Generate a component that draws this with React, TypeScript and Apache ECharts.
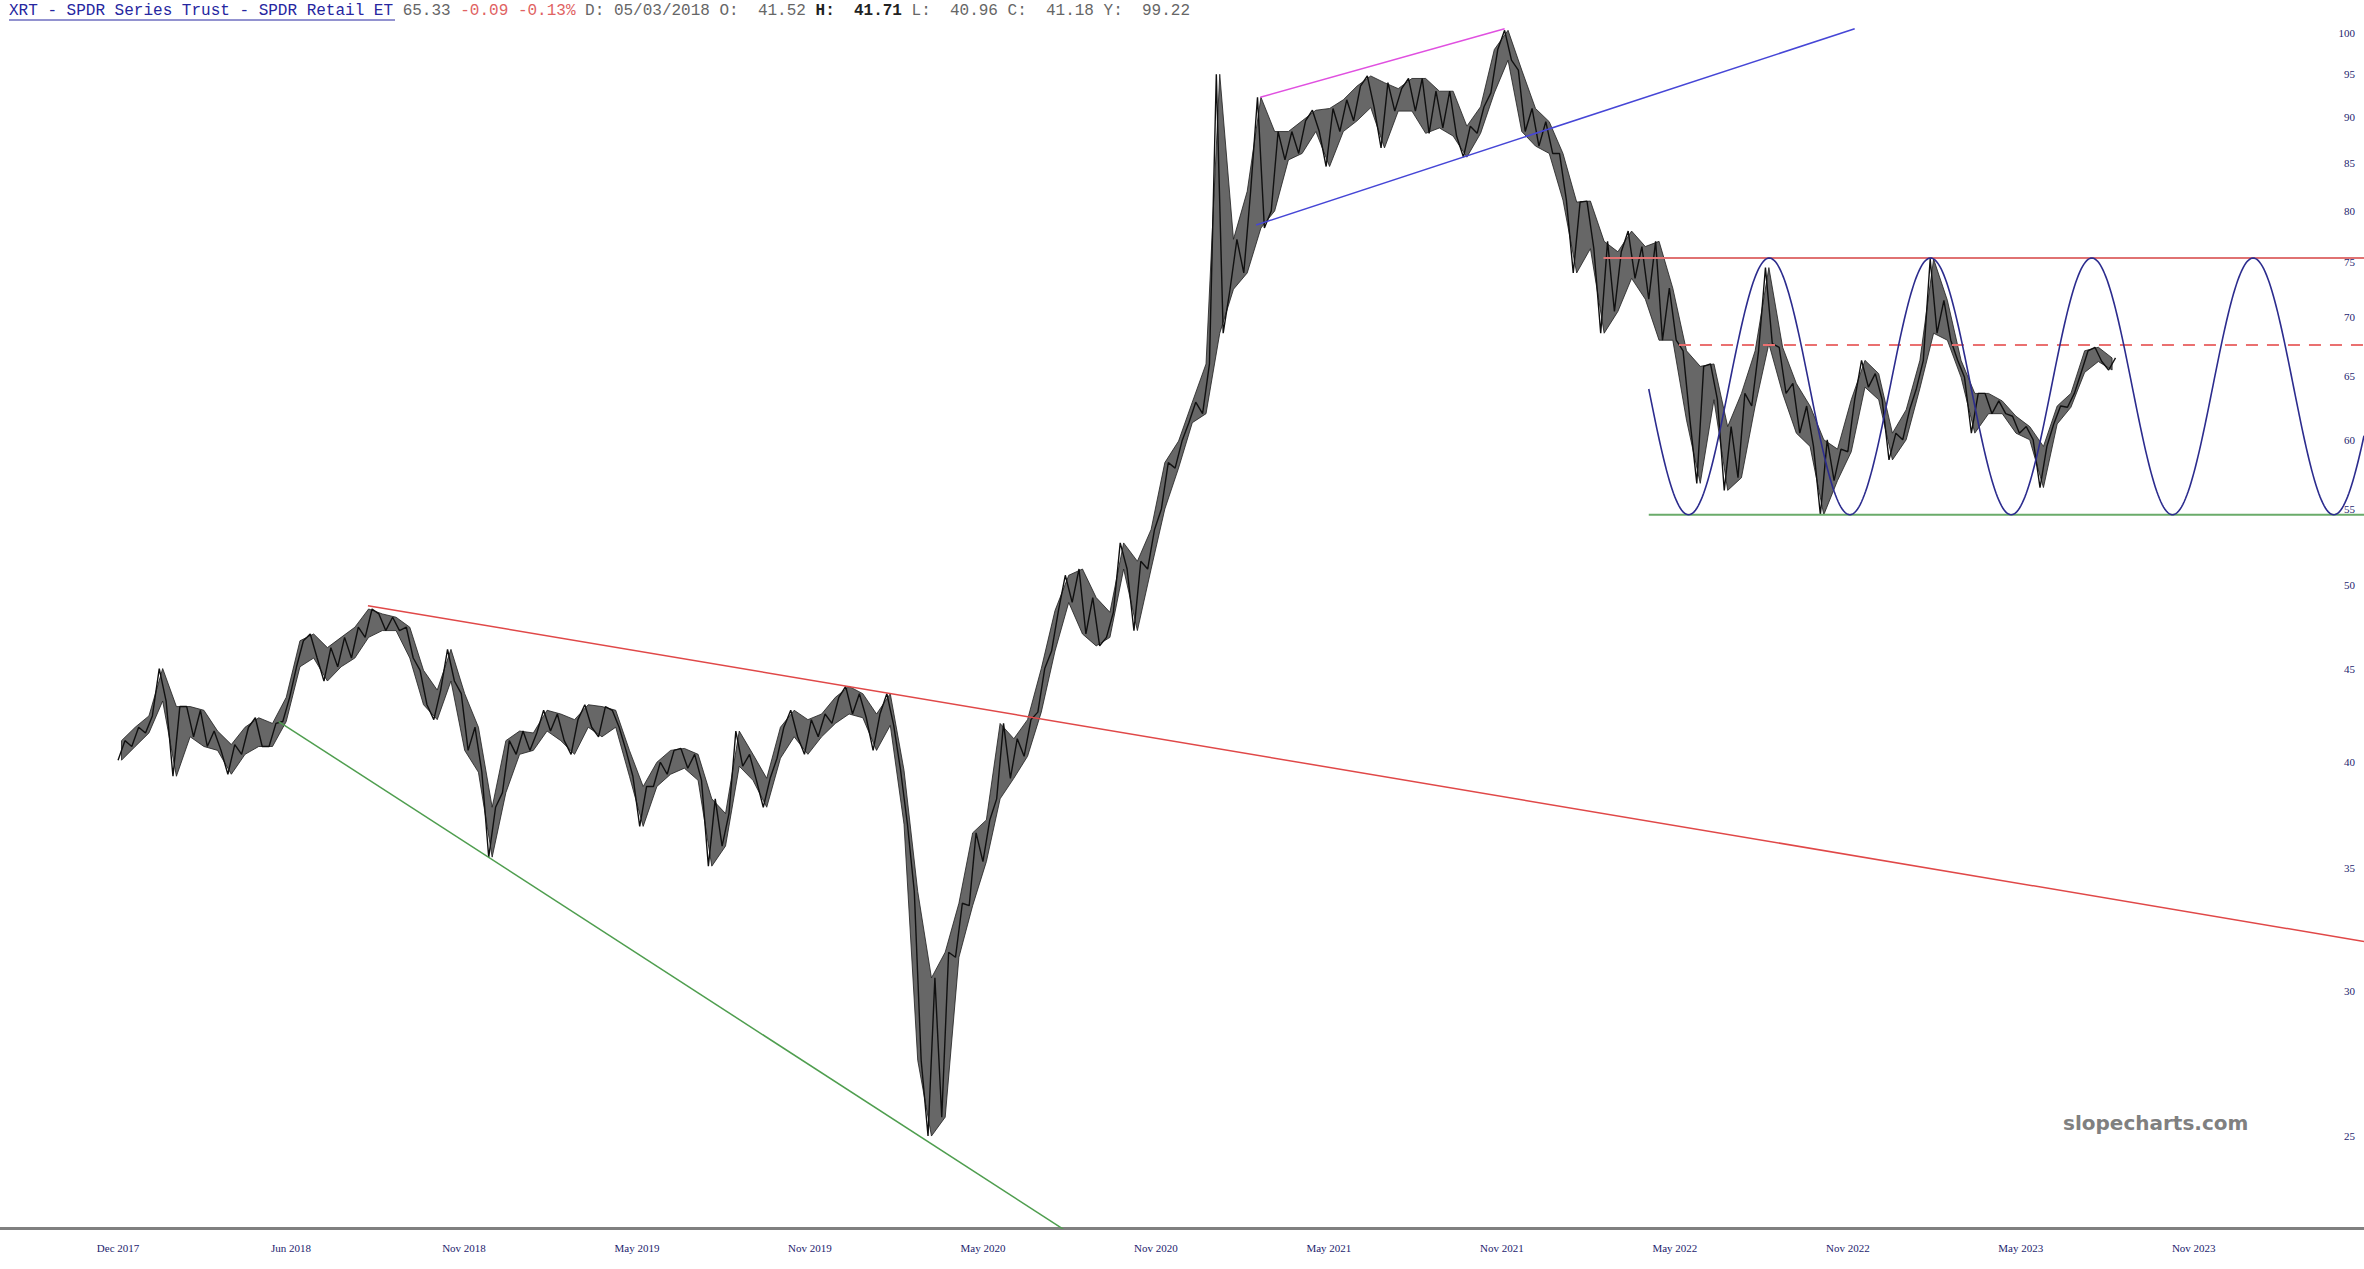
import React, { useEffect, useRef } from 'react';
import * as echarts from 'echarts';

// ---- data (trading-day index sampled every 10 sessions, starting Dec 2017) ----
const sampleStep = 10;
const lows = [
  40.1, 40.8, 41.5, 43.2, 39.3, 41.3, 40.8, 40.6, 39.4, 40.4,
  40.8, 40.8, 42.1, 45.1, 45.6, 44.3, 45.1, 45.6, 46.8, 47.2,
  47.2, 45.6, 43.0, 42.2, 44.3, 40.6, 39.5, 35.5, 38.5, 40.4,
  40.6, 41.6, 41.1, 40.4, 41.8, 41.3, 41.8, 39.3, 36.9, 38.8,
  39.4, 39.7, 39.1, 35.1, 36.0, 39.8, 39.1, 37.8, 40.2, 41.3,
  40.4, 41.3, 42.0, 42.5, 42.3, 40.6, 41.9, 37.0, 27.5, 25.0,
  25.6, 31.3, 33.4, 35.3, 38.2, 39.2, 40.3, 42.6, 46.0, 48.9,
  47.0, 46.3, 46.8, 51.0, 47.2, 51.0, 55.0, 57.9, 61.3, 62.0,
  68.6, 72.5, 74.0, 78.3, 80.0, 85.3, 86.0, 88.4, 84.6, 88.4,
  89.6, 91.1, 86.6, 90.7, 90.7, 88.2, 88.8, 87.9, 85.6, 88.2,
  92.8, 96.7, 88.4, 86.8, 86.0, 81.1, 74.0, 76.3, 68.6, 70.5,
  73.5, 71.6, 68.0, 68.0, 61.5, 56.8, 63.1, 56.3, 57.2, 62.6,
  67.7, 63.6, 60.5, 59.5, 54.6, 57.0, 59.1, 64.1, 63.1, 58.5,
  60.0, 64.0, 68.6, 68.0, 64.9, 60.5, 62.0, 62.0, 60.5, 60.0,
  56.5, 61.2, 62.5, 65.3, 66.2, 65.5,
];
const highs = [
  41.1, 41.8, 42.4, 45.0, 42.9, 42.9, 42.7, 41.6, 40.9, 41.8,
  42.3, 42.0, 43.4, 46.6, 47.0, 46.2, 46.8, 47.4, 48.5, 48.2,
  48.0, 47.4, 44.9, 43.8, 46.1, 43.6, 41.8, 37.8, 41.1, 41.6,
  41.5, 42.7, 42.5, 42.2, 43.0, 42.9, 42.7, 40.6, 38.8, 40.0,
  40.6, 40.7, 40.4, 38.2, 37.5, 41.6, 40.4, 39.2, 41.8, 42.7,
  42.2, 42.5, 43.4, 44.0, 43.6, 42.5, 43.6, 39.6, 34.0, 30.5,
  31.5, 33.5, 36.6, 37.2, 42.0, 41.2, 42.2, 45.0, 48.4, 50.6,
  51.0, 49.2, 48.3, 52.7, 51.5, 53.6, 58.3, 59.9, 62.9, 66.0,
  95.0, 77.2, 82.0, 92.3, 88.4, 88.4, 89.6, 90.8, 91.0, 92.0,
  93.6, 94.8, 94.0, 93.3, 94.5, 94.5, 93.0, 93.0, 89.0, 91.2,
  98.0, 100.4, 95.5, 91.0, 89.5, 86.0, 80.9, 81.0, 77.0, 76.0,
  78.0, 76.5, 77.0, 72.6, 67.1, 65.8, 66.0, 61.0, 63.6, 67.1,
  74.5, 67.4, 64.4, 62.6, 60.0, 59.3, 63.1, 66.3, 65.2, 60.5,
  62.3, 66.3, 75.3, 71.5, 66.3, 63.6, 63.6, 63.0, 61.8, 61.0,
  59.5, 62.6, 63.6, 67.1, 67.4, 66.5,
];

const xTickStep = 126;
const xTickLabels = [
  'Dec 2017', 'Jun 2018', 'Nov 2018', 'May 2019', 'Nov 2019', 'May 2020', 'Nov 2020',
  'May 2021', 'Nov 2021', 'May 2022', 'Nov 2022', 'May 2023', 'Nov 2023',
];
const yTickValues = [25, 30, 35, 40, 45, 50, 55, 60, 65, 70, 75, 80, 85, 90, 95, 100];

const xMin = -86;
const xMax = 1636;
const yMin = 22.27;
const yMax = 104.3;

// drawn annotations, in data coordinates [trading-day index, price]
const redTrend = [[182, 48.7], [1636, 31.93]];
const greenTrend = [[117, 42.1], [690, 22.2]];
const magentaTrend = [[832, 92.3], [1010, 100.6]];
const blueTrend = [[829, 78.6], [1265, 100.6]];
const resistance = [[1082, 75.4], [1636, 75.4]];
const midLevel = [[1137, 67.6], [1636, 67.6]];
const support = [[1115, 54.6], [1636, 54.6]];
const cycleStart = 1115;
const cycleFirstTrough = 1144;
const cyclePeriod = 117.5;
const cycleTop = 75.4;
const cycleBottom = 54.6;

function lineSeries(data: number[][], color: string, width: number, type: any = 'solid') {
  return {
    type: 'line',
    data,
    symbol: 'none',
    silent: true,
    z: 4,
    lineStyle: { color, width, type },
  };
}

export default function App() {
  const ref = useRef<HTMLDivElement>(null);
  useEffect(() => {
    if (!ref.current) return;
    const chart = echarts.init(ref.current, null, { renderer: 'svg' });

    const zig: number[][] = [];
    for (let k = 0; k < lows.length; k++) {
      const i = k * sampleStep;
      const mid = (lows[k] + highs[k]) / 2;
      const nextMid = k + 1 < lows.length ? (lows[k + 1] + highs[k + 1]) / 2 : mid;
      if (nextMid >= mid) {
        zig.push([i, lows[k]], [i + sampleStep / 2, highs[k]]);
      } else {
        zig.push([i, highs[k]], [i + sampleStep / 2, lows[k]]);
      }
    }
    const rangeData = lows.map((lo, k) => [k * sampleStep, lo, highs[k]]);

    const labelColor = '#24246e';

    chart.setOption({
      animation: false,
      backgroundColor: '#ffffff',
      grid: { left: 0, right: 0, top: 0, bottom: 41, containLabel: false },
      xAxis: {
        type: 'value',
        min: xMin,
        max: xMax,
        axisLine: { show: true, lineStyle: { color: '#808080', width: 3 } },
        axisTick: { show: false },
        splitLine: { show: false },
        axisLabel: {
          customValues: xTickLabels.map((_, i) => i * xTickStep),
          formatter: (v: number) => xTickLabels[Math.round(v / xTickStep)] ?? '',
          color: labelColor,
          fontFamily: 'Liberation Serif',
          fontSize: 11,
          margin: 14,
        },
      },
      yAxis: {
        type: 'log',
        logBase: 10,
        min: yMin,
        max: yMax,
        position: 'right',
        axisLine: { show: false },
        axisTick: { show: false },
        splitLine: { show: false },
        axisLabel: {
          inside: true,
          customValues: yTickValues,
          formatter: (v: number) => String(Math.round(v)),
          color: labelColor,
          fontFamily: 'Liberation Serif',
          fontSize: 11,
          margin: 9,
        },
      },
      series: [
        {
          // high-low band of the price bars
          type: 'custom',
          coordinateSystem: 'cartesian2d',
          data: [[0, lows[0]]],
          silent: true,
          z: 1,
          renderItem: (_p: any, api: any) => {
            const upper = rangeData.map((d) => api.coord([d[0] + 2.5, d[2]]));
            const lower = rangeData.map((d) => api.coord([d[0] + 2.5, d[1]])).reverse();
            return {
              type: 'polygon',
              shape: { points: upper.concat(lower) },
              style: { fill: 'rgba(45,45,45,0.72)', stroke: 'rgba(30,30,30,0.8)', lineWidth: 1 },
            };
          },
        },
        {
          type: 'line',
          data: zig,
          symbol: 'none',
          silent: true,
          z: 2,
          lineStyle: { color: '#101010', width: 1.4 },
        },
        lineSeries(redTrend, '#e04848', 1.5),
        lineSeries(greenTrend, '#4f9e4f', 1.5),
        lineSeries(magentaTrend, '#e050e0', 1.5),
        lineSeries(blueTrend, '#4646d6', 1.5),
        lineSeries(resistance, '#e07272', 2),
        lineSeries(midLevel, '#ea7070', 2, [12, 9]),
        lineSeries(support, '#6aab6a', 2),
        {
          type: 'custom',
          coordinateSystem: 'cartesian2d',
          data: [[cycleStart, cycleTop]],
          silent: true,
          z: 5,
          renderItem: (_params: any, api: any) => {
            const topY = api.coord([cycleStart, cycleTop])[1];
            const botY = api.coord([cycleStart, cycleBottom])[1];
            const mid = (topY + botY) / 2;
            const amp = (botY - topY) / 2;
            const pts: number[][] = [];
            for (let x = cycleStart; x <= xMax; x += 1) {
              const px = api.coord([x, cycleTop])[0];
              const py = mid + amp * Math.cos((2 * Math.PI * (x - cycleFirstTrough)) / cyclePeriod);
              pts.push([px, py]);
            }
            return {
              type: 'polyline',
              shape: { points: pts },
              style: { stroke: '#2c2c8e', lineWidth: 1.6, fill: null },
            };
          },
        },
      ],
      graphic: [
        {
          type: 'text',
          left: 9,
          top: 3,
          style: {
            text:
              '{t|XRT - SPDR Series Trust - SPDR Retail ET}{g| 65.33 }{r|-0.09 -0.13%}{g| D: 05/03/2018 O:  41.52 }{b|H:  41.71}{g| L:  40.96 C:  41.18 Y:  99.22}',
            font: '16px "Liberation Mono"',
            rich: {
              t: { fill: '#2626a0', fontFamily: 'Liberation Mono', fontSize: 16 },
              g: { fill: '#666666', fontFamily: 'Liberation Mono', fontSize: 16 },
              r: { fill: '#e06262', fontFamily: 'Liberation Mono', fontSize: 16 },
              b: { fill: '#222222', fontFamily: 'Liberation Mono', fontSize: 16, fontWeight: 'bold' },
            },
          },
        },
        {
          type: 'line',
          shape: { x1: 9, y1: 20, x2: 395, y2: 20 },
          style: { stroke: '#2626a0', lineWidth: 1 },
        },
        {
          type: 'text',
          left: 2063,
          top: 1113,
          style: {
            text: 'slopecharts.com',
            fill: '#808080',
            font: 'bold 20px "DejaVu Sans"',
          },
        },
      ],
    });
    return () => chart.dispose();
  }, []);
  return (
    <div
      ref={ref}
      style={{ position: 'fixed', left: 0, top: 0, width: '2364px', height: '1269px' }}
    />
  );
}
